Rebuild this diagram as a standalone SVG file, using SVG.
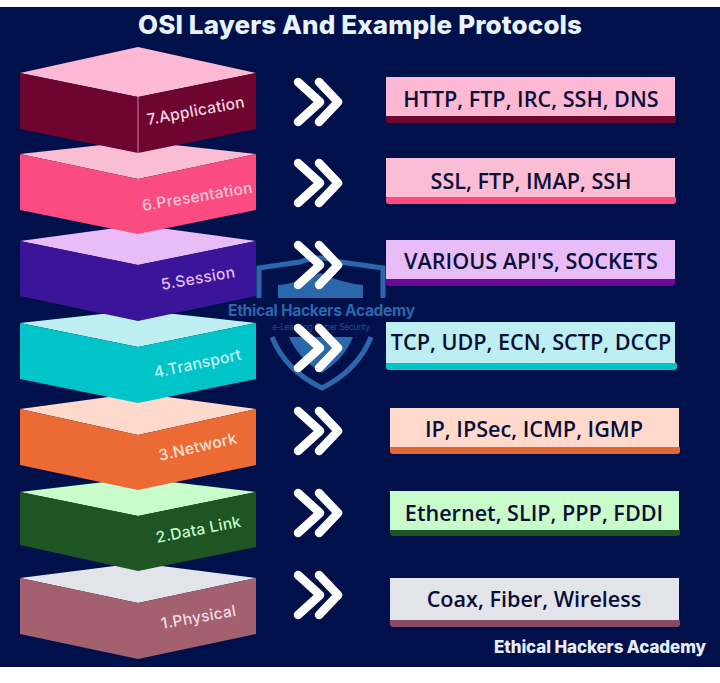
<svg xmlns="http://www.w3.org/2000/svg" width="720" height="683" viewBox="0 0 720 683">
<style>
.title{font-family:"Inter","Liberation Sans",sans-serif;font-weight:800;font-size:26px;fill:#e9f3ff}
.lab{font-family:"Inter","Liberation Sans",sans-serif;font-weight:500;font-size:15.5px;letter-spacing:.3px}
.box{font-family:"Open Sans","Noto Sans",sans-serif;font-weight:600;font-size:21.6px;fill:#0a0f38;text-anchor:middle}
.wm{fill:#2a68ab}
.wml{fill:none;stroke:#2a68ab;stroke-width:5}
.wt{font-family:"Inter","Liberation Sans",sans-serif;font-weight:700;font-size:15.5px;fill:#2a68ab}
.ws{font-family:"Inter","Liberation Sans",sans-serif;font-size:8.5px;fill:#1f4f88}
.foot{font-family:"Inter","Liberation Sans",sans-serif;font-weight:800;font-size:17px;fill:#e4eefc}
.chev{fill:none;stroke:#fff;stroke-width:8.5;stroke-linecap:round;stroke-linejoin:round}
</style>
<defs>
<g id="chevs"><path class="chev" d="M298,-20 L320,0 L298,20"/><path class="chev" d="M319,-20 L338,0 L319,20"/></g>
</defs>
<rect width="720" height="683" fill="#fff"/>
<rect y="7" width="720" height="660" fill="#00104a"/>
<text class="title" x="138" y="34" textLength="444" lengthAdjust="spacing">OSI Layers And Example Protocols</text>

<g id="watermark">
<path class="wml" d="M259,298 V268 L300,262 Q320,254 340,262 L383,268 V298"/>
<path class="wm" d="M278,298 V285 Q300,283 320,273 Q342,283 363,285 V298 Z"/>
<path class="wml" d="M272,337 Q285,370 322,388 Q358,370 371,337"/>
<path class="wm" d="M289,337 H353 Q345,358 322,373 Q298,358 289,337 Z"/>
<text class="wt" x="228" y="316" textLength="187" lengthAdjust="spacing">Ethical Hackers Academy</text>
<text class="ws" x="272" y="330" textLength="98" lengthAdjust="spacing">e-Learning Cyber Security</text>
</g>

<g id="layer-1">
<path fill="#e3e3ea" d="M20,578 L138,563 L256,578 L138,603 Z"/>
<path fill="#a3606f" d="M20,578 L138,603 L256,578 V634 L138,659 L20,634 Z"/>
<text class="lab" fill="#f3dbe6" transform="translate(162,629) rotate(-10)">1.Physical</text>
</g>
<g id="layer-2">
<path fill="#c9fccb" d="M20,492 L138,478 L256,492 L138,516 Z"/>
<path fill="#1f5423" d="M20,492 L138,516 L256,492 V547 L138,571 L20,545 Z"/>
<text class="lab" fill="#c9fccb" transform="translate(157,543) rotate(-11)">2.Data Link</text>
</g>
<g id="layer-3">
<path fill="#ffd9cc" d="M20,409 L138,393 L256,409 L138,435 Z"/>
<path fill="#ec6b35" d="M20,409 L138,435 L256,409 V465 L138,490 L20,465 Z"/>
<text class="lab" fill="#ffe2d6" transform="translate(160,461) rotate(-13)">3.Network</text>
</g>
<g id="layer-4">
<path fill="#bdeef2" d="M20,323 L138,310 L256,323 L138,347 Z"/>
<path fill="#00c4c8" d="M20,323 L138,347 L256,323 V379 L138,403 L20,379 Z"/>
<text class="lab" fill="#c5f4f6" transform="translate(155,378) rotate(-12)">4.Transport</text>
</g>
<g id="layer-5">
<path fill="#e8bdf7" d="M20,241 L138,225 L256,241 L138,265 Z"/>
<path fill="#3a1499" d="M20,241 L138,265 L256,241 V296 L138,321 L20,296 Z"/>
<text class="lab" fill="#e8bdf7" transform="translate(162,290) rotate(-10)">5.Session</text>
</g>
<g id="layer-6">
<path fill="#fbbdd4" d="M20,154 L138,141 L256,154 L138,179 Z"/>
<path fill="#fb4c82" d="M20,154 L138,179 L256,154 V210 L138,234 L20,210 Z"/>
<text class="lab" fill="#fbc6da" transform="translate(143,211) rotate(-9.5)">6.Presentation</text>
</g>
<g id="layer-7">
<path fill="#fdb9d3" d="M20,73 L138,47 L256,73 L138,97 Z"/>
<path fill="#6e0530" d="M20,73 L138,97 L256,73 V129 L138,153 L20,129 Z"/>
<path d="M138,97 V153" stroke="#e8a5c0" stroke-width="0.8" fill="none"/>
<text class="lab" fill="#fbd3e2" transform="translate(148,125) rotate(-10.5)">7.Application</text>
</g>

<g id="connectors">
<use href="#chevs" y="102"/>
<use href="#chevs" y="183"/>
<use href="#chevs" y="265"/>
<use href="#chevs" y="348"/>
<use href="#chevs" y="431"/>
<use href="#chevs" y="513"/>
<use href="#chevs" y="595"/>
</g>

<g id="box-7"><rect x="386" y="115" width="290" height="8" rx="3" fill="#6e0530"/><rect x="386" y="77" width="289" height="39" fill="#fdb9d3"/><text class="box" x="531" y="107">HTTP, FTP, IRC, SSH, DNS</text></g>
<g id="box-6"><rect x="386" y="196" width="290" height="8" rx="3" fill="#fb4c82"/><rect x="386" y="158" width="289" height="39" fill="#fbbdd4"/><text class="box" x="531" y="189">SSL, FTP, IMAP, SSH</text></g>
<g id="box-5"><rect x="386" y="278" width="289" height="8" rx="3" fill="#6a0a96"/><rect x="386" y="240" width="289" height="39" fill="#e8bdf7"/><text class="box" x="531" y="269">VARIOUS API'S, SOCKETS</text></g>
<g id="box-4"><rect x="386" y="362" width="291" height="8" rx="3" fill="#00c4c8"/><rect x="386" y="322" width="289" height="41" fill="#bdeef2"/><text class="box" x="531" y="350">TCP, UDP, ECN, SCTP, DCCP</text></g>
<g id="box-3"><rect x="390" y="446" width="290" height="8" rx="3" fill="#e2683a"/><rect x="390" y="408" width="289" height="39" fill="#ffd9cc"/><text class="box" x="534" y="437">IP, IPSec, ICMP, IGMP</text></g>
<g id="box-2"><rect x="390" y="528" width="290" height="8" rx="3" fill="#1f5423"/><rect x="390" y="491" width="289" height="39" fill="#c9fccb"/><text class="box" x="534" y="521">Ethernet, SLIP, PPP, FDDI</text></g>
<g id="box-1"><rect x="390" y="619" width="290" height="8" rx="3" fill="#8a4a64"/><rect x="390" y="578" width="289" height="42" fill="#e3e3ea"/><text class="box" x="534" y="607">Coax, Fiber, Wireless</text></g>

<text class="foot" x="494" y="653" textLength="212" lengthAdjust="spacing">Ethical Hackers Academy</text>
</svg>
